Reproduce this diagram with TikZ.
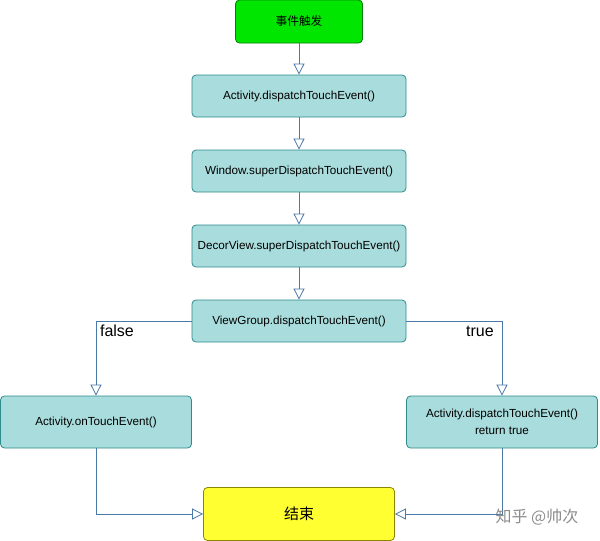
\documentclass[tikz,border=0pt]{standalone}
\usepackage{fontspec}
\setmainfont{Liberation Sans}
\newfontfamily\cjk{Noto Sans CJK SC}
\usetikzlibrary{arrows.meta}
\definecolor{boxfill}{HTML}{A9DCDC}
\definecolor{boxline}{HTML}{2E8B8B}
\definecolor{arr}{HTML}{4A78A8}
\tikzset{
  box/.style={draw=boxline,fill=boxfill,rounded corners=4pt,line width=0.8pt,font=\fontsize{11.7}{14}\selectfont,align=center,inner sep=0pt},
  conn/.style={draw=arr,line width=0.8pt,-{Triangle[open,length=11pt,width=11pt]}},
}
\begin{document}
\begin{tikzpicture}[x=1pt,y=-1pt]
\useasboundingbox (0,0) rectangle (600,541);
\node[box,draw=green!50!black,fill={rgb,255:red,0;green,230;blue,0},minimum width=127pt,minimum height=43pt] (start) at (299,21.5) {\cjk 事件触发};
\node[box,minimum width=214pt,minimum height=42pt] (a) at (299,96) {Activity.dispatchTouchEvent()};
\node[box,minimum width=214pt,minimum height=42pt] (w) at (299,171) {Window.superDispatchTouchEvent()};
\node[box,minimum width=214pt,minimum height=42pt] (d) at (299,246) {DecorView.superDispatchTouchEvent()};
\node[box,minimum width=214pt,minimum height=42pt] (v) at (299,321) {ViewGroup.dispatchTouchEvent()};
\node[box,minimum width=191pt,minimum height=52pt] (l) at (96,422) {Activity.onTouchEvent()};
\node[box,minimum width=191pt,minimum height=52pt] (r) at (502,422) {Activity.dispatchTouchEvent()\\[3pt]return true};
\node[box,draw=olive,fill={rgb,255:red,255;green,255;blue,50},minimum width=191pt,minimum height=53pt,font=\fontsize{15}{18}\selectfont] (e) at (299,514) {\cjk 结束};
\draw[conn] (start) -- (a);
\draw[conn] (a) -- (w);
\draw[conn] (w) -- (d);
\draw[conn] (d) -- (v);
\draw[conn] (v.west) -| (l.north);
\draw[conn] (v.east) -| (r.north);
\draw[conn] (l.south) |- (e.west);
\draw[conn] (r.south) |- (e.east);
\node[font=\fontsize{16}{18}\selectfont] (f) at (117,331) {false};
\node[font=\fontsize{16}{18}\selectfont] (t) at (480,331) {true};
\node[text=white!55!black,font=\cjk\fontsize{16}{18}\selectfont] (wm) at (537,517) {知乎 @帅次};
\end{tikzpicture}
\end{document}
